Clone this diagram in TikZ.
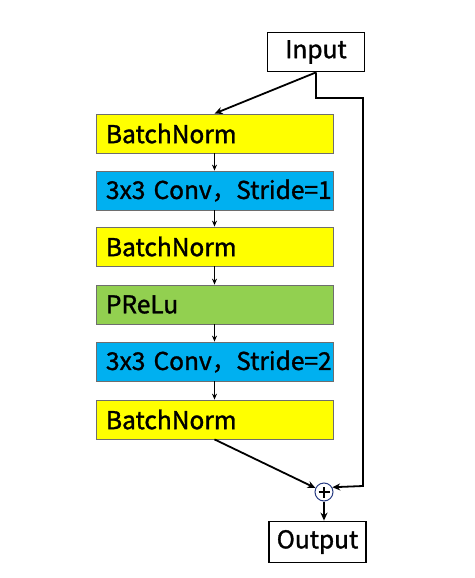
\documentclass[tikz,border=0pt]{standalone}
\usepackage{fontspec}
\newfontfamily\cjk[FakeBold=1.3]{Noto Sans CJK SC}
\usetikzlibrary{arrows.meta}
\definecolor{byellow}{RGB}{255,255,0}
\definecolor{bblue}{RGB}{0,176,240}
\definecolor{bgreen}{RGB}{146,208,80}
\definecolor{edge}{RGB}{110,110,110}
\definecolor{ringc}{RGB}{40,60,130}
\begin{document}
\begin{tikzpicture}[x=1pt,y=-1pt,
  layer/.style={rectangle,draw=edge,line width=0.8pt,minimum width=237pt,minimum height=39pt,
    text width=240pt,inner xsep=-1.5pt,inner ysep=0pt,align=left,
    execute at begin node={\hspace*{11.5pt}},font=\cjk\fontsize{24.5}{26}\selectfont},
  iobox/.style={rectangle,draw=black,line width=1.8pt,minimum height=39pt,inner sep=0pt,
    font=\cjk\fontsize{24.5}{26}\selectfont},
  sarrow/.style={-{Stealth[length=6pt,width=5pt]},line width=1pt},
  barrow/.style={-{Stealth[length=8pt,width=7pt]},line width=1.8pt}]
\useasboundingbox (0,0) rectangle (474,578);
\node[iobox,minimum width=97pt] (in) at (316,52) {Input};
\node[layer,fill=byellow] (bn1) at (214.5,133.5) {BatchNorm};
\node[layer,fill=bblue] (c1) at (214.5,190.5) {3x3 Conv，Stride=1};
\node[layer,fill=byellow] (bn2) at (214.5,246.5) {BatchNorm};
\node[layer,fill=bgreen] (pr) at (214.5,304.5) {PReLu};
\node[layer,fill=bblue] (c2) at (214.5,361.5) {3x3 Conv，Stride=2};
\node[layer,fill=byellow] (bn3) at (214.5,419.5) {BatchNorm};
\node[circle,draw=ringc,line width=1pt,minimum size=18pt,inner sep=0pt] (ring) at (324,492) {};
\draw[line width=1.2pt] ([xshift=-5.5pt]ring.center) -- ([xshift=5.5pt]ring.center)
  ([yshift=-5.5pt]ring.center) -- ([yshift=5.5pt]ring.center);
\node[iobox,minimum width=97pt,minimum height=41pt] (out) at (317.5,542) {Output};
\coordinate (k1) at (363,98);
\coordinate (k2) at (363,486);
\draw[barrow] (in.south) -- (bn1.north);
\draw[barrow] (in.south) |- (k1) -- (k2) -- (ring.30);
\draw[sarrow] (bn1) -- (c1);
\draw[sarrow] (c1) -- (bn2);
\draw[sarrow] (bn2) -- (pr);
\draw[sarrow] (pr) -- (c2);
\draw[sarrow] (c2) -- (bn3);
\draw[barrow] (bn3.south) -- (ring.155);
\draw[barrow] (ring.south) -- (ring.south |- out.north);
\end{tikzpicture}
\end{document}
